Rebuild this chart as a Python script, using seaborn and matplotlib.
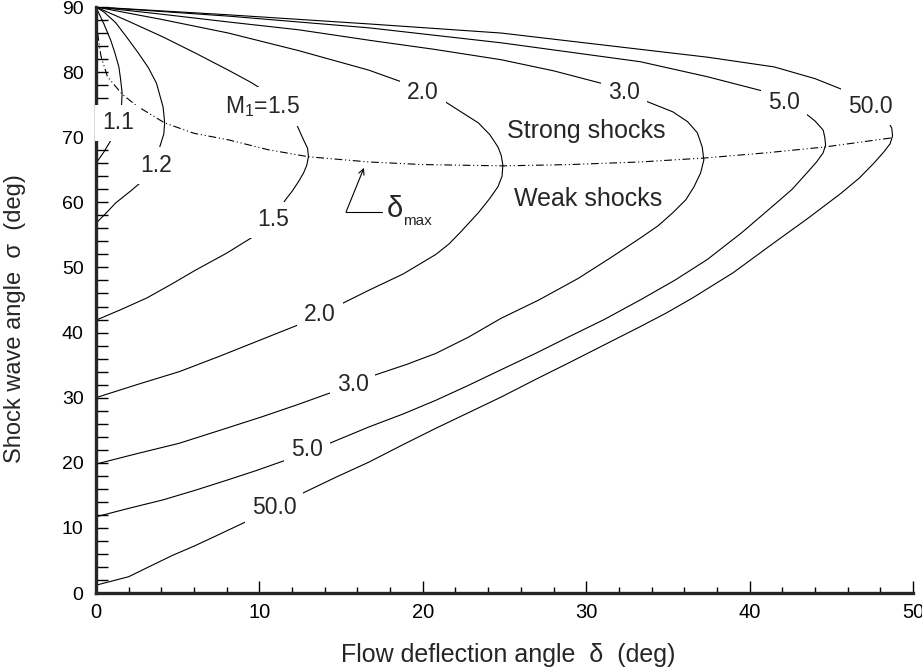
import pandas as pd
import numpy as np
import matplotlib
matplotlib.use('Agg')
import matplotlib.pyplot as plt
from matplotlib.ticker import MultipleLocator
import seaborn as sns

# oblique shock chart: sigma vs delta, one curve per upstream Mach number
mach_labels = ['1.1', '1.2', '1.5', '2.0', '3.0', '5.0', '50.0']

delta_m11 = [0, 0.5, 1.0, 1.35, 1.55, 1.6, 1.5, 1.4, 1.15, 0.9, 0.5, 0]
sigma_m11 = [66.0, 67.8, 69.9, 72.0, 74.2, 76.8, 79.0, 80.8, 83.0, 84.9, 87.3, 90]

delta_m12 = [0, 0.6, 1.2, 2.1, 2.9, 3.5, 3.9, 4.15, 4.2, 4.15, 4.1, 3.7, 3.2, 2.6, 1.9, 1.2, 0.5, 0]
sigma_m12 = [56.8, 58.3, 59.9, 61.7, 63.4, 65.8, 68.5, 70.5, 72.2, 73.6, 74.7, 78.3, 80.7, 82.9, 85.3, 87.6, 89.2, 90]

delta_m15 = [0, 1.5, 3.1, 4.6, 6.1, 8.0, 9.8, 10.8, 11.6, 12.0, 12.4, 12.7, 12.9, 13.0, 12.95, 12.7, 12.2,
             11.6, 10.7, 9.5, 8.1, 6.1, 4.1, 2.0, 0]
sigma_m15 = [41.9, 43.5, 45.3, 47.4, 49.6, 52.2, 55.0, 57.3, 60.4, 61.7, 63.2, 64.5, 65.7, 67.0, 68.3, 69.6, 72.4,
             74.5, 76.5, 78.4, 80.3, 82.9, 85.4, 87.8, 90]

delta_m20 = [0, 2.5, 5.1, 7.5, 9.8, 12.4, 13.7, 15.1, 16.7, 18.8, 20.8, 21.6, 22.3, 23.4, 24.1, 24.6, 24.85,
             24.9, 24.8, 24.6, 24.1, 23.4, 21.4, 20.0, 18.7, 16.7, 12.4, 8.1, 4.0, 0]
sigma_m20 = [30.0, 32.0, 34.0, 36.3, 38.6, 41.2, 42.8, 44.5, 46.5, 49.0, 52.0, 53.6, 55.4, 58.4, 60.6, 62.4,
             64.0, 65.7, 67.2, 68.5, 70.4, 72.2, 75.4, 77.0, 78.5, 80.3, 83.3, 86.0, 88.1, 90]

delta_m30 = [0, 2.5, 5.1, 7.6, 10.2, 12.3, 14.3, 15.7, 17.1, 19.0, 20.8, 22.8, 24.8, 27.1, 29.5, 31.5,
             33.3, 34.4, 35.3, 36.1, 36.6, 37.0, 37.2, 37.1, 36.8, 36.2, 35.3, 33.5, 32.3, 30.9, 28.0, 24.8,
             20.7, 16.7, 12.4, 8.1, 4.0, 0]
sigma_m30 = [19.8, 21.4, 23.0, 25.0, 27.1, 28.9, 30.7, 32.0, 33.5, 35.1, 36.8, 39.3, 42.2, 45.0, 48.3, 51.5,
             54.5, 56.4, 58.4, 60.4, 62.4, 64.5, 66.5, 68.5, 70.7, 72.4, 73.9, 75.7, 76.8, 78.3, 80.2, 81.9,
             83.5, 84.9, 86.5, 87.7, 88.9, 90]

delta_m50 = [0, 2.0, 4.1, 6.1, 8.1, 9.8, 11.5, 12.9, 14.3, 16.7, 18.8, 20.8, 22.8, 24.8, 26.9, 28.9,
             31.1, 33.3, 35.4, 37.4, 39.5, 41.5, 42.6, 43.5, 44.1, 44.5, 44.65, 44.6, 44.5, 44.0, 43.4, 42.1,
             40.8, 37.4, 33.3, 24.8, 16.7, 8.1, 0]
sigma_m50 = [11.7, 13.0, 14.3, 15.8, 17.4, 18.8, 20.3, 21.8, 23.0, 25.5, 27.5, 29.6, 31.9, 34.3, 36.8, 39.3,
             42.0, 45.0, 48.0, 51.2, 55.3, 59.6, 62.0, 64.5, 66.2, 67.6, 68.8, 70.0, 71.1, 72.5, 73.7, 75.3,
             77.1, 79.3, 81.6, 84.5, 86.8, 88.6, 90]

delta_m500 = [0, 2.0, 3.3, 4.7, 6.0, 7.2, 8.3, 9.4, 10.9, 12.7, 14.7, 16.7, 18.8, 20.8, 22.8, 24.8,
              26.9, 28.9, 31.1, 33.3, 34.9, 36.5, 39.0, 41.5, 43.6, 45.6, 46.7, 47.6, 48.2, 48.6, 48.75,
              48.7, 48.4, 47.4, 46.0, 44.0, 41.5, 37.4, 33.3, 24.8, 16.7, 8.1, 0]
sigma_m500 = [1.2, 2.5, 4.1, 5.8, 7.2, 8.6, 9.9, 11.2, 13.2, 15.4, 17.8, 20.1, 22.8, 25.3, 27.7, 30.1,
              32.8, 35.3, 38.1, 40.9, 43.0, 45.3, 49.2, 53.8, 57.6, 61.4, 63.7, 66.0, 67.7, 69.0, 70.2,
              71.4, 72.7, 74.7, 77.0, 79.0, 80.8, 82.3, 83.5, 86.0, 87.4, 88.8, 90]

# locus of maximum deflection (dash-dot-dot line)
delta_max_x = [0.1, 0.3, 0.7, 1.6, 2.5, 4.2, 6.0, 8.1, 10.5, 13.0, 16.7, 20.0, 24.9, 29.0, 33.3,
               37.2, 41.0, 44.6, 48.7]
delta_max_y = [86.0, 82.5, 79.3, 76.6, 74.8, 72.2, 70.6, 69.6, 68.1, 67.0, 66.2, 65.8, 65.6, 65.8, 66.2,
               66.8, 67.6, 68.5, 69.9]

# in-line curve labels: (text, delta, sigma)
curve_labels = [
    ('1.1', 1.35, 72.2), ('1.2', 3.7, 65.7), (r'$\mathregular{M_1}$=1.5', 10.2, 74.7),
    ('1.5', 10.84, 57.3), ('2.0', 20.0, 76.8), ('2.0', 13.7, 42.7),
    ('3.0', 32.3, 76.8), ('3.0', 15.7, 32.0), ('5.0', 42.1, 75.3),
    ('5.0', 12.9, 22.0), ('50.0', 47.4, 74.7), ('50.0', 10.9, 13.2),
]

curves = [(delta_m11, sigma_m11), (delta_m12, sigma_m12), (delta_m15, sigma_m15),
          (delta_m20, sigma_m20), (delta_m30, sigma_m30), (delta_m50, sigma_m50),
          (delta_m500, sigma_m500)]

frames = []
for m, (d, s) in zip(mach_labels, curves):
    frames.append(pd.DataFrame({'delta': d, 'sigma': s, 'mach': m, 'order': np.arange(len(d))}))
df = pd.concat(frames, ignore_index=True)

sns.set_style('ticks')
plt.rcParams['font.family'] = ['Liberation Sans', 'DejaVu Sans']
plt.rcParams['mathtext.fontset'] = 'custom'
plt.rcParams['mathtext.rm'] = 'Liberation Sans'

fig = plt.figure(figsize=(9.22, 6.68), dpi=100)
ax = fig.add_axes([96 / 922, 75 / 668, 817 / 922, 586 / 668])

sns.lineplot(data=df, x='delta', y='sigma', units='mach', estimator=None, sort=False,
             color='black', linewidth=0.8, ax=ax, legend=False)

ax.plot(delta_max_x, delta_max_y, color='black', linewidth=0.8,
        linestyle=(0, (7, 2.5, 1, 2.5, 1, 2.5)))

for txt, x, y in curve_labels:
    ax.text(x, y, txt, fontsize=16.5, ha='center', va='center', zorder=4,
            bbox=dict(boxstyle='square,pad=0.3', fc='white', ec='none'))

ax.text(30.0, 71.0, 'Strong shocks', fontsize=18, ha='center', va='center')
ax.text(30.1, 60.5, 'Weak shocks', fontsize=18, ha='center', va='center')

# delta_max pointer
ax.annotate('', xy=(16.4, 65.3), xytext=(15.3, 58.5),
            arrowprops=dict(arrowstyle='->', color='black', lw=0.8, shrinkA=0, shrinkB=0))
ax.plot([15.3, 17.5], [58.5, 58.5], color='black', linewidth=0.8)
ax.text(17.8, 58.9, 'δ', fontsize=21, ha='left', va='center')
ax.text(18.8, 57.2, 'max', fontsize=11, ha='left', va='center')

ax.set_xlim(0, 50)
ax.set_ylim(0, 90)
ax.xaxis.set_major_locator(MultipleLocator(10))
ax.xaxis.set_minor_locator(MultipleLocator(2))
ax.yaxis.set_major_locator(MultipleLocator(10))
ax.yaxis.set_minor_locator(MultipleLocator(2))

sns.despine(ax=ax)
for side in ['left', 'bottom']:
    ax.spines[side].set_linewidth(2.4)
    ax.spines[side].set_zorder(2.5)

ax.tick_params(axis='both', which='both', direction='in', width=1.0, colors='black')
ax.tick_params(axis='x', which='major', length=8.6, pad=7, labelsize=14.5)
ax.tick_params(axis='x', which='minor', length=4.3)
ax.tick_params(axis='y', which='both', length=8.6, pad=9, labelsize=14)

ax.set_xlabel('Flow deflection angle  δ  (deg)', fontsize=18, va='center')
ax.set_ylabel('Shock wave angle  σ  (deg)', fontsize=17, va='center')
ax.xaxis.set_label_coords(0.505, -0.106)
ax.yaxis.set_label_coords(-0.099, 0.468)

fig.savefig('out.png', dpi=100)
